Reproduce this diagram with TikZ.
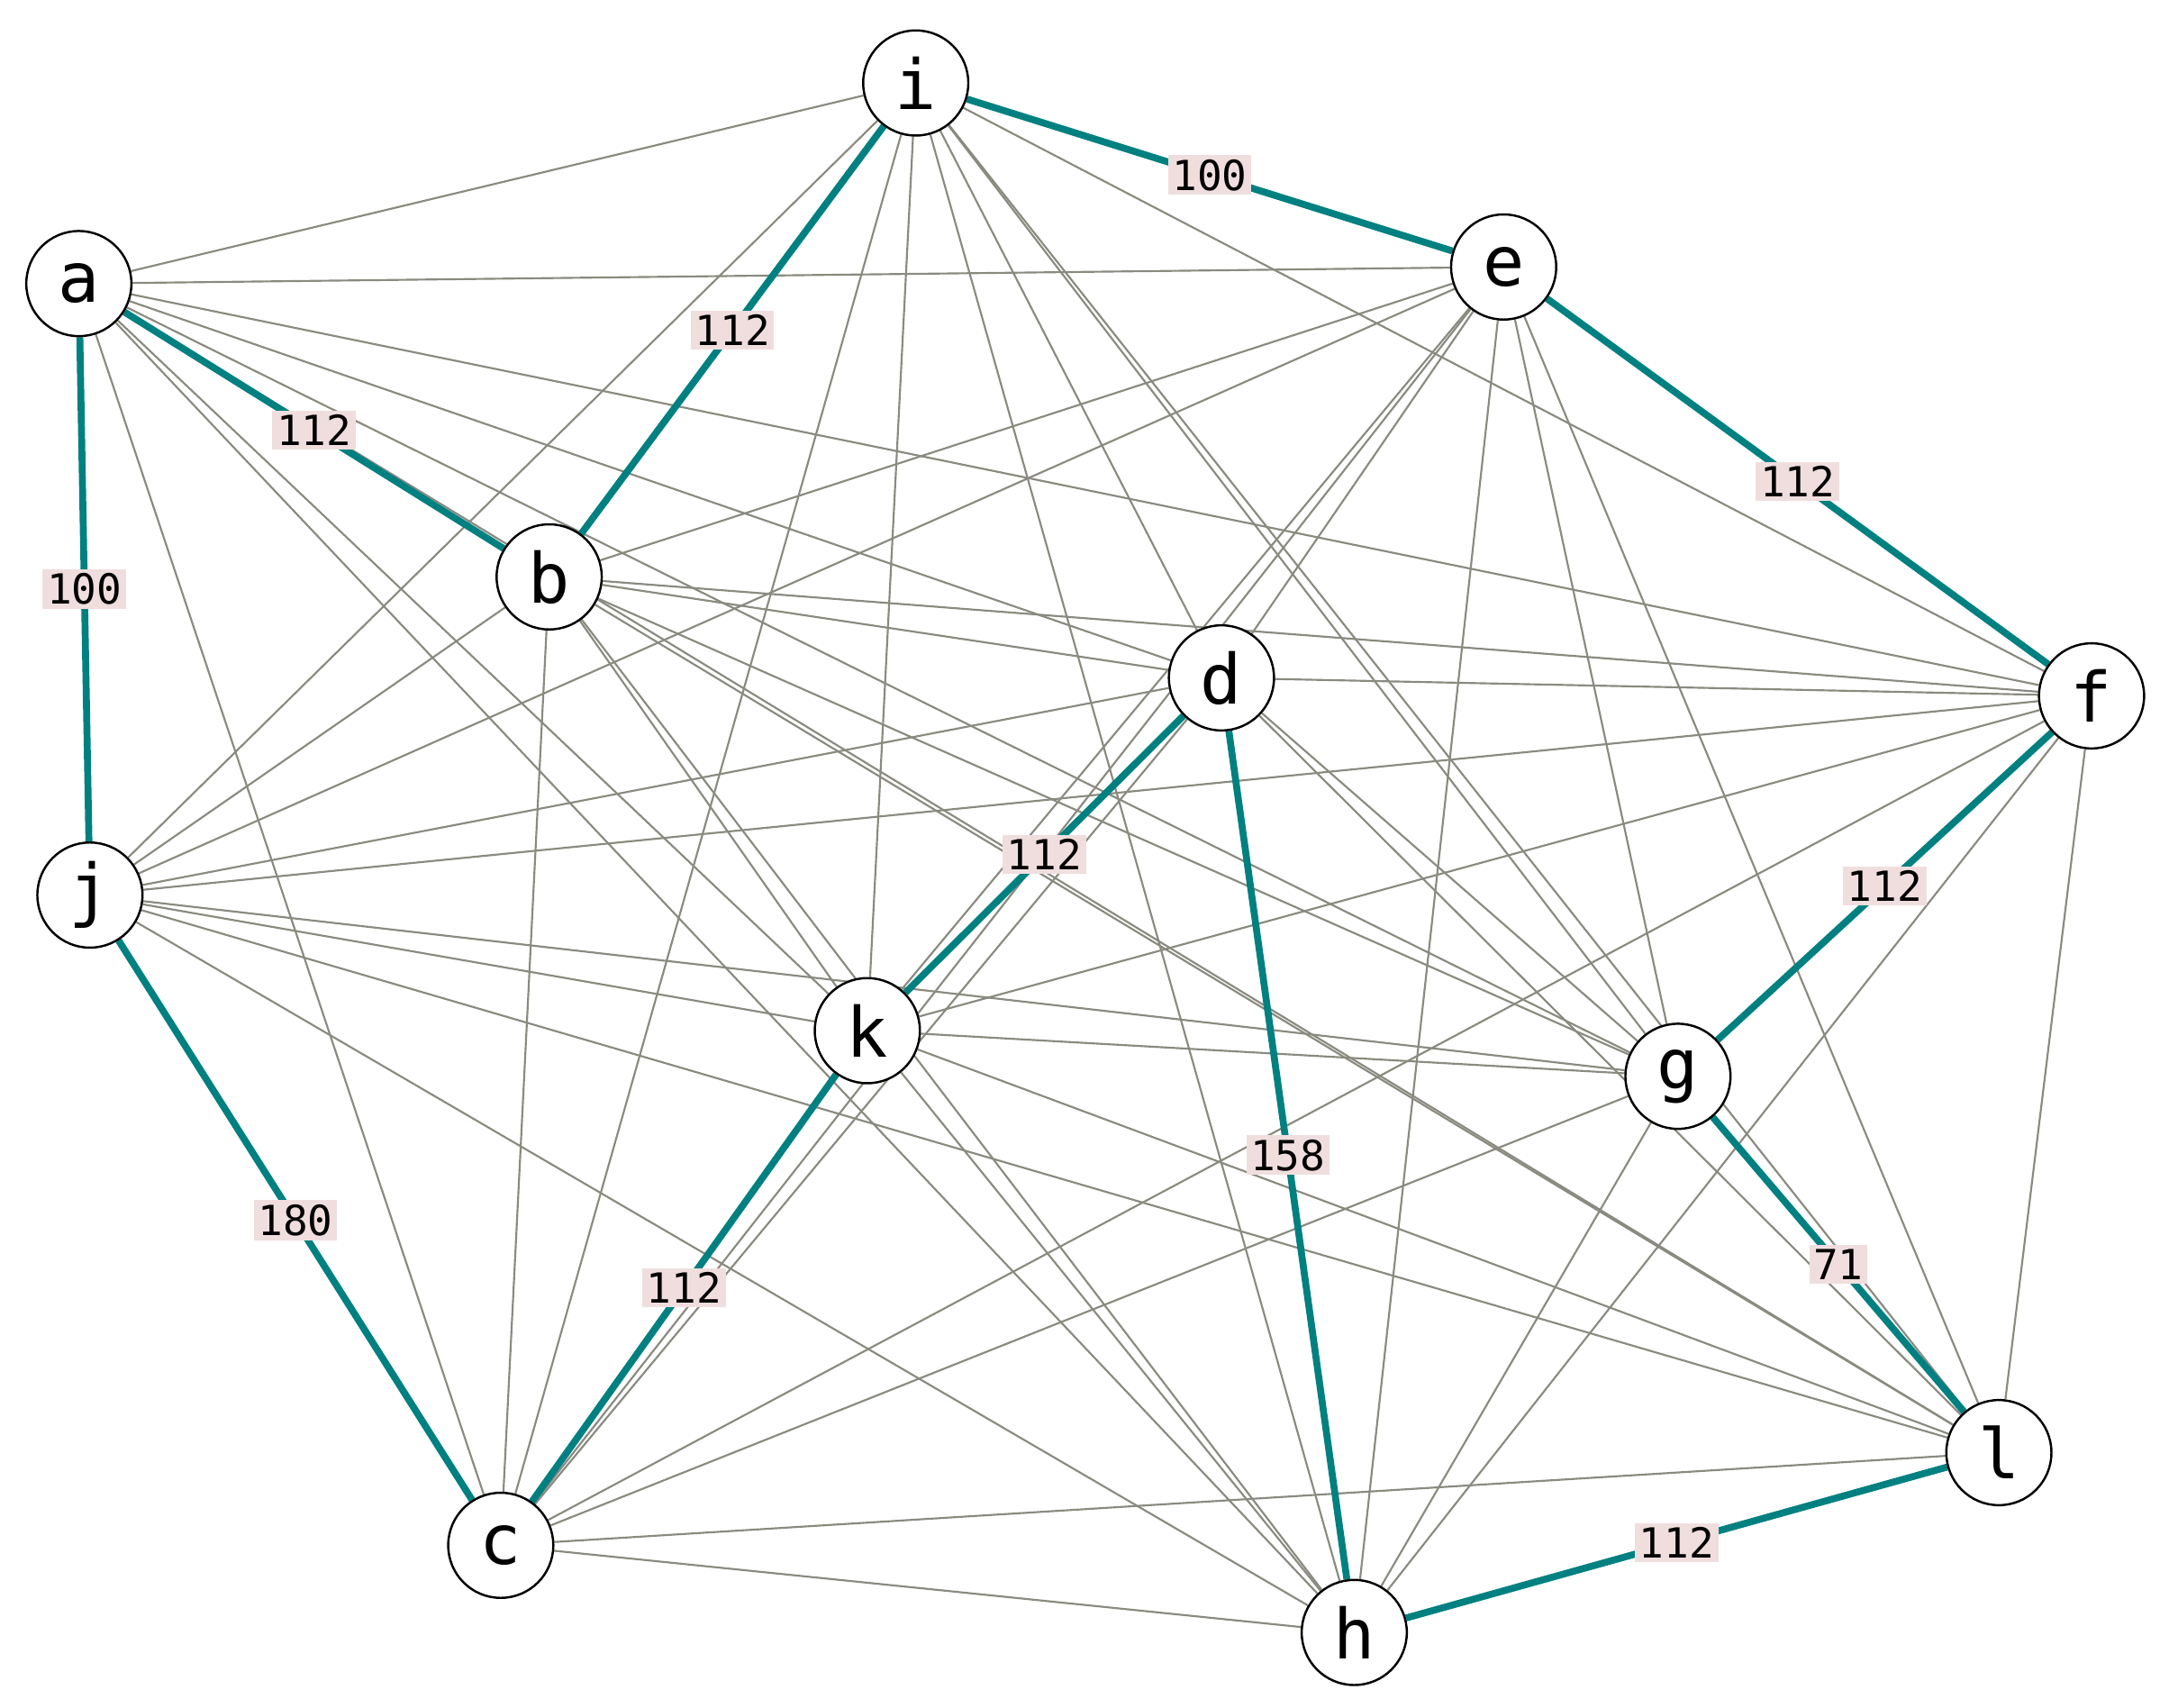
\documentclass[tikz,border=0pt]{standalone}
\usepackage{fontspec}
\setmonofont{DejaVu Sans Mono}
\usetikzlibrary{backgrounds}
\definecolor{edgegray}{RGB}{138,138,128}
\definecolor{teal2}{RGB}{0,128,128}
\definecolor{lblpink}{RGB}{240,222,222}
\tikzset{
  vtx/.style={circle,draw=black,line width=0.8pt,fill=white,minimum size=38pt,inner sep=0pt,font=\ttfamily\fontsize{25}{25}\selectfont},
  plain/.style={draw=edgegray,line width=0.7pt},
  tree/.style={draw=teal2,line width=2.5pt},
  wlbl/.style={fill=lblpink,inner sep=1.5pt,font=\ttfamily\fontsize{15}{15}\selectfont}
}
\begin{document}
\begin{tikzpicture}[x=0.5pt,y=-0.5pt]
\useasboundingbox (0,0) rectangle (1568,1234);
\node[vtx] (i) at (662,60) {i};
\node[vtx] (a) at (57,205) {a};
\node[vtx] (e) at (1087,193) {e};
\node[vtx] (b) at (397,417) {b};
\node[vtx] (d) at (883,490) {d};
\node[vtx] (f) at (1512,503) {f};
\node[vtx] (j) at (65,647) {j};
\node[vtx] (k) at (627,745) {k};
\node[vtx] (g) at (1213,778) {g};
\node[vtx] (l) at (1445,1050) {l};
\node[vtx] (c) at (362,1117) {c};
\node[vtx] (h) at (979,1180) {h};
\begin{pgfonlayer}{background}
\foreach \u/\rest in {i/{a,e,b,d,f,j,k,g,l,c,h},a/{e,b,d,f,j,k,g,l,c,h},e/{b,d,f,j,k,g,l,c,h},b/{d,f,j,k,g,l,c,h},d/{f,j,k,g,l,c,h},f/{j,k,g,l,c,h},j/{k,g,l,c,h},k/{g,l,c,h},g/{l,c,h},l/{c,h},c/{h}}{
  \foreach \v in \rest { \draw[plain] (\u) -- (\v); }
}
\foreach \u/\v/\w in {i/e/100,i/b/112,a/b/112,a/j/100,e/f/112,d/k/112,d/h/158,f/g/112,g/l/71,l/h/112,j/c/180,k/c/112}{
  \draw[tree] (\u) -- node[wlbl]{\w} (\v);
}
\end{pgfonlayer}
\end{tikzpicture}
\end{document}
